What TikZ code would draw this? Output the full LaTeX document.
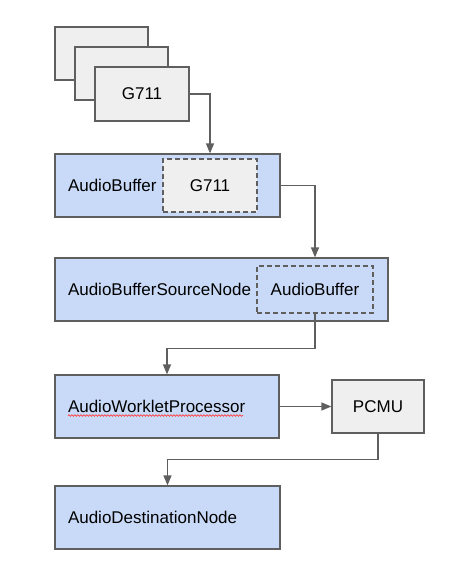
\documentclass[tikz,border=0pt]{standalone}
\usepackage{fontspec}
\setmainfont{Liberation Sans}
\usetikzlibrary{arrows.meta,decorations.pathmorphing}
\definecolor{bluefill}{HTML}{C9DAF8}
\definecolor{grayfill}{HTML}{EFEFEF}
\definecolor{edgec}{HTML}{5F5F5F}
\begin{document}
\begin{tikzpicture}[x=1pt,y=-1pt,
  box/.style={draw=edgec, line width=1.2pt, inner sep=0pt, font=\fontsize{17}{20}\selectfont},
  bluebox/.style={box, fill=bluefill, inner xsep=13pt, text width=#1, minimum height=63pt, align=left},
  graybox/.style={box, fill=grayfill},
  dashbox/.style={box, dash pattern=on 5pt off 3pt},
  conn/.style={draw=edgec, line width=1.2pt, -{Triangle[length=10pt,width=8pt]}}
]
\useasboundingbox (0,0) rectangle (450,581);
% stacked G711 frames
\node[graybox, minimum width=93pt, minimum height=53pt] (s1) at (101.5,53.5) {};
\node[graybox, minimum width=93pt, minimum height=53pt] (s2) at (121.5,73.5) {};
\node[graybox, minimum width=94pt, minimum height=54pt] (s3) at (142,94) {G711};
% AudioBuffer
\node[bluebox=199pt] (ab) at (167.5,185.5) {AudioBuffer};
\node[dashbox, fill=grayfill, minimum width=94pt, minimum height=53pt] (gin) at (210,185.5) {G711};
% AudioBufferSourceNode
\node[bluebox=307pt] (absn) at (221.5,289.5) {AudioBufferSourceNode};
\node[dashbox, minimum width=116pt, minimum height=47pt] (abin) at (315,289.5) {AudioBuffer};
% AudioWorkletProcessor
\node[bluebox=198pt] (awp) at (167,406.5) {AudioWorkletProcessor};
\draw[red!75, line width=0.7pt, decorate, decoration={snake, amplitude=0.8pt, segment length=3pt}] (68,415.5) -- (243,415.5);
% PCMU
\node[graybox, minimum width=92pt, minimum height=53pt] (pcmu) at (378,406.5) {PCMU};
% AudioDestinationNode
\node[bluebox=199pt] (adn) at (167.5,517.5) {AudioDestinationNode};
% connectors
\draw[conn] (s3.east) -| (ab.north -| gin.north);
\draw[conn] (ab.east) -| (absn.north -| abin.north);
\draw[conn] (abin.south) -- ++(0,35) -| (awp.north);
\draw[conn] (awp.east) -- (pcmu.west);
\draw[conn] (pcmu.south) -- ++(0,26) -| (adn.north);
\end{tikzpicture}
\end{document}
